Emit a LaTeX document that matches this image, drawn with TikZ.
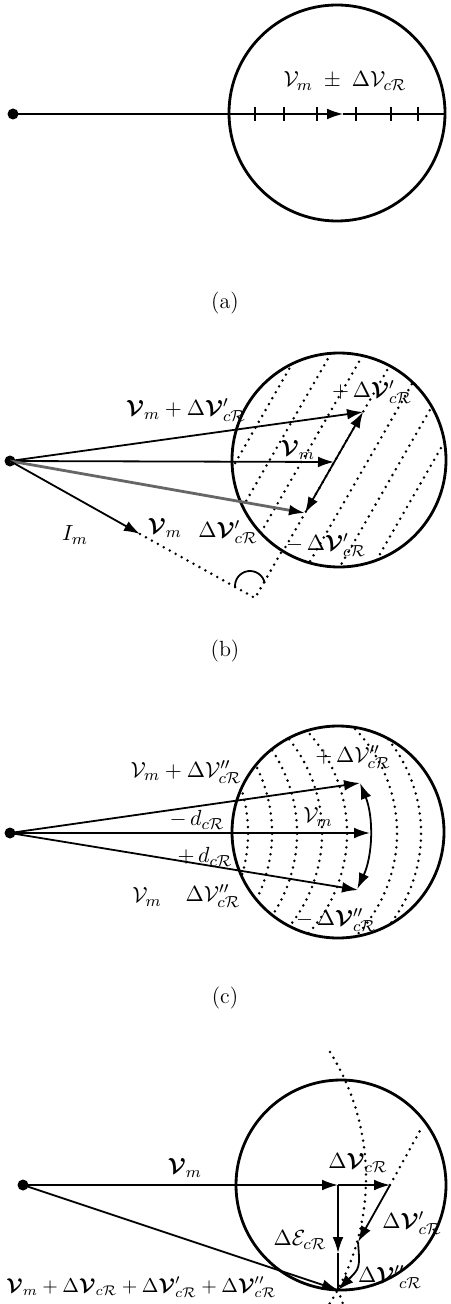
\documentclass[tikz,border=0pt]{standalone}
\usepackage{amsmath,amssymb}
\usetikzlibrary{arrows.meta,calc}
\begin{document}
\begin{tikzpicture}[x=0.5pt,y=-0.5pt]
\tikzset{
  vec/.style={-{Latex[length=8pt,width=5.4pt]},line width=0.9pt},
  dvec/.style={{Latex[length=8pt,width=5.4pt]}-{Latex[length=8pt,width=5.4pt]},line width=0.9pt},
  ring/.style={line width=1.4pt},
  tick/.style={line width=1.1pt},
  dots/.style={line width=1.4pt,line cap=round,dash pattern=on 0pt off 3.4pt},
  lbl/.style={font=\fontsize{11}{13}\selectfont,inner sep=1pt},
  subcap/.style={font=\fontsize{11}{13}\selectfont},
  pole/.style={circle,fill,inner sep=0pt,minimum size=5.5pt}
}
\useasboundingbox (0,0) rectangle (450,1304);

% (a) scalar spread
\node[pole] (a0) at (13,114) {};
\coordinate (ac) at (337,113);
\coordinate (a1) at (343,114);
\coordinate (a2) at (445,114);
\draw[ring] (ac) circle[radius=108];
\draw[vec,line width=0.7pt] (a0.center) -- (a1);
\draw[line width=0.7pt] (a1) -- (a2);
\foreach \x in {255,284,317,356,391,418}
  \draw[tick] (\x,107) -- (\x,121);
\node[lbl] (aV) at (345,81) {$\mathcal{V}_m \;\pm\; \Delta\mathcal{V}_{c\mathcal{R}}$};
\node[subcap] (acap) at (225,303) {(a)};

% (b) parallel shift
\node[pole] (b0) at (10,461) {};
\coordinate (bc) at (339,460);
\coordinate (bU) at (363,412);
\coordinate (bM) at (334,462);
\coordinate (bL) at (305,513);
\coordinate (bI) at (140,534);
\coordinate (bK) at (255,598);
\coordinate (bE) at (282,551);
\begin{scope}
  \clip (bc) circle[radius=107];
  \foreach \k in {-3,...,3}
    \draw[dots] ([shift={(\k*24.7,\k*14.2)}]bL) ++(-124.5,216.75) -- ++(249,-433.5);
\end{scope}
\draw[ring] (bc) circle[radius=107];
\draw[dots] (bI) -- (bK) -- (bE);
\draw[line width=0.9pt] (250,586) ++(172:15) arc[start angle=172,end angle=349,radius=15];
\draw[vec] (b0.center) -- (bU);
\draw[vec] (b0.center) -- (bM);
\draw[line width=1.4pt,gray!80!black,-{Latex[length=8pt,width=5.4pt,black]}] (b0.center) -- (bL);
\draw[dvec] (bL) -- (bU);
\draw[vec] (b0.center) -- (bI);
\node[lbl] (bVU) at (186,410) {$\boldsymbol{\mathcal{V}}_m + \Delta\boldsymbol{\mathcal{V}}'_{c\mathcal{R}}$};
\node[lbl] (bVM) at (298,450) {$\boldsymbol{\mathcal{V}}_m$};
\node[lbl] (bdp) at (372,392) {$+\,\Delta\boldsymbol{\mathcal{V}}'_{c\mathcal{R}}$};
\node[lbl] (bdl) at (228,532) {$\Delta\boldsymbol{\mathcal{V}}'_{c\mathcal{R}}$};
\node[lbl] (bdm) at (326,545) {$-\,\Delta\boldsymbol{\mathcal{V}}'_{c\mathcal{R}}$};
\node[lbl] (bIm) at (75,535) {$I_m$};
\node[lbl] (bVm) at (165,528) {$\boldsymbol{\mathcal{V}}_m$};
\node[subcap] (bcap) at (225,651) {(b)};

% (c) angular shift
\node[pole] (c0) at (10,833) {};
\coordinate (cc) at (338,832);
\coordinate (cU) at (360,783);
\coordinate (cM) at (370,833);
\coordinate (cL) at (358,890);
\begin{scope}
  \clip (cc) circle[radius=106];
  \foreach \x in {248,272,297,322,347,397,421}
    \draw[dots] (\x-150,833) ++(-75:150) arc[start angle=-75,end angle=75,radius=150];
\end{scope}
\draw[ring] (cc) circle[radius=106];
\draw[vec] (c0.center) -- (cU);
\draw[vec] (c0.center) -- (cM);
\draw[vec] (c0.center) -- (cL);
\draw[dvec] (cU) arc[start angle=-22,end angle=25,radius=133];
\node[lbl] (cVU) at (186,772) {$\mathcal{V}_m + \Delta\mathcal{V}''_{c\mathcal{R}}$};
\node[lbl] (cdm) at (197,820) {$-\,d_{c\mathcal{R}}$};
\node[lbl] (cVM) at (318,817) {$\mathcal{V}_m$};
\node[lbl] (cdp) at (205,857) {$+\,d_{c\mathcal{R}}$};
\node[lbl] (cVm) at (147,897) {$\mathcal{V}_m$};
\node[lbl] (cdl) at (213,896) {$\Delta\mathcal{V}''_{c\mathcal{R}}$};
\node[lbl] (cpp) at (353,757) {$+\,\Delta\mathcal{V}''_{c\mathcal{R}}$};
\node[lbl] (cmm) at (336,920) {$-\,\Delta\boldsymbol{\mathcal{V}}''_{c\mathcal{R}}$};
\node[subcap] (ccap) at (225,998) {(c)};

% (d) combined shift
\node[pole] (d0) at (23,1185) {};
\coordinate (dc) at (341,1185);
\coordinate (dA) at (338,1185);
\coordinate (dB) at (390,1185);
\coordinate (dC) at (358,1242);
\coordinate (dE) at (338,1253);
\coordinate (dS) at (338,1290);
\coordinate (dF) at (422,1127);
\coordinate (dG) at (330,1052);
\coordinate (dH) at (343,1304);
\draw[ring] (dc) circle[radius=105];
\draw[dots] (dG) arc[start angle=-32,end angle=32.5,radius=237];
\draw[dots] (dB) -- (dF);
\draw[dots] (dS) -- (dH);
\draw[vec] (d0.center) -- (dA);
\draw[vec] (dA) -- (dB);
\draw[vec] (dA) -- (dE);
\draw[line width=0.9pt] (dE) -- (dS);
\draw[vec] (dB) -- (dC);
\draw[vec] (dC) .. controls (360,1268) .. (dS);
\draw[vec] (d0.center) -- (dS);
\node[lbl] (dVm) at (185,1168) {$\boldsymbol{\mathcal{V}}_m$};
\node[lbl] (dV0) at (358,1163) {$\Delta\boldsymbol{\mathcal{V}}_{c\mathcal{R}}$};
\node[lbl] (dV1) at (412,1223) {$\Delta\boldsymbol{\mathcal{V}}'_{c\mathcal{R}}$};
\node[lbl] (dEc) at (300,1240) {$\Delta\mathcal{E}_{c\mathcal{R}}$};
\node[lbl] (dV2) at (390,1277) {$\Delta\boldsymbol{\mathcal{V}}''_{\;c\mathcal{R}}$};
\node[lbl,font=\fontsize{10}{12}\selectfont,anchor=west] (dsum) at (4,1287) {$\boldsymbol{\mathcal{V}}_m + \Delta\boldsymbol{\mathcal{V}}_{c\mathcal{R}} + \Delta\boldsymbol{\mathcal{V}}'_{c\mathcal{R}} + \Delta\boldsymbol{\mathcal{V}}''_{c\mathcal{R}}$};
\end{tikzpicture}
\end{document}
